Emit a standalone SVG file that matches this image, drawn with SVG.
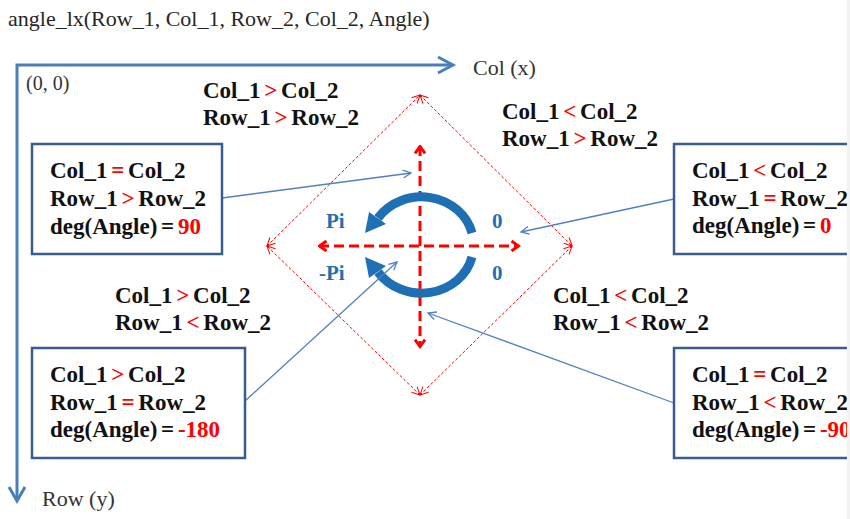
<svg xmlns="http://www.w3.org/2000/svg" width="850" height="519" viewBox="0 0 850 519">
<defs>
<style>
.t{font-family:"Liberation Serif","Times New Roman",serif;}
.b{font-family:"Liberation Serif","Times New Roman",serif;font-weight:bold;font-size:23px;word-spacing:-2px;fill:#111;}
.r{fill:#FF0000;}
.box{fill:#fff;stroke:#385D8A;stroke-width:2.5;}
.conn{fill:none;stroke:#4F81BD;stroke-width:1.3;}
.dia{fill:none;stroke:#FF0000;stroke-width:1;stroke-dasharray:3 2;}
.cross{fill:none;stroke:#FF0000;stroke-width:3;stroke-dasharray:10 5;}
.pi{font-family:"Liberation Serif","Times New Roman",serif;font-weight:bold;font-size:21px;fill:#1F6FB5;}
</style>
<marker id="mb" viewBox="0 0 10 10" refX="9" refY="5" markerWidth="10" markerHeight="10" markerUnits="userSpaceOnUse" orient="auto-start-reverse">
<path d="M1,1 L9,5 L1,9" fill="none" stroke="#4F81BD" stroke-width="1.3" stroke-dasharray="none"/>
</marker>
<marker id="mr" viewBox="0 0 10 10" refX="9" refY="5" markerWidth="10" markerHeight="10" markerUnits="userSpaceOnUse" orient="auto-start-reverse">
<path d="M1,1 L9,5 L1,9" fill="none" stroke="#FF0000" stroke-width="1" stroke-dasharray="none"/>
</marker>
<marker id="mx" viewBox="0 0 12 12" refX="10.5" refY="6" markerWidth="12" markerHeight="12" markerUnits="userSpaceOnUse" orient="auto-start-reverse">
<path d="M3,1 L10,6 L3,11" fill="none" stroke="#FF0000" stroke-width="3" stroke-dasharray="none"/>
</marker>
<clipPath id="clip"><rect x="0" y="0" width="847" height="519"/></clipPath>
</defs>
<rect x="0" y="0" width="850" height="519" fill="#fff"/>
<g clip-path="url(#clip)">
<text class="t" x="8" y="26" font-size="22" fill="#262626">angle_lx(Row_1, Col_1, Row_2, Col_2, Angle)</text>

<g id="axes">
<polyline points="17,500 17,65 452,65" fill="none" stroke="#4A7EBB" stroke-width="3"/>
<polyline points="438,57 453,65 438,73" fill="none" stroke="#4A7EBB" stroke-width="3"/>
<polyline points="9,487 17,501 25,487" fill="none" stroke="#4A7EBB" stroke-width="3"/>
<text class="t" x="473" y="75" font-size="22" fill="#333">Col (x)</text>
<text class="t" x="26" y="90" font-size="20" fill="#333">(0, 0)</text>
<text class="t" x="42" y="506" font-size="22" fill="#333">Row (y)</text>
</g>

<g id="diamond">
<line class="dia" x1="420" y1="95" x2="572" y2="246" marker-start="url(#mr)" marker-end="url(#mr)"/>
<line class="dia" x1="572" y1="246" x2="420" y2="395" marker-start="url(#mr)" marker-end="url(#mr)"/>
<line class="dia" x1="420" y1="395" x2="267" y2="246" marker-start="url(#mr)" marker-end="url(#mr)"/>
<line class="dia" x1="267" y1="246" x2="420" y2="95" marker-start="url(#mr)" marker-end="url(#mr)"/>
</g>

<g id="cross">
<line class="cross" x1="420" y1="146" x2="420" y2="347" marker-start="url(#mx)" marker-end="url(#mx)"/>
<line class="cross" x1="319" y1="246" x2="519" y2="246" marker-start="url(#mx)" marker-end="url(#mx)"/>
</g>

<g id="rotation">
<path d="M472,233 A52,47 0 0 0 378,218" fill="none" stroke="#1F6FB5" stroke-width="9"/>
<polygon points="386,224 369,212 365,233" fill="#1F6FB5"/>
<path d="M472,257 A52,47 0 0 1 378,272" fill="none" stroke="#1F6FB5" stroke-width="9"/>
<polygon points="386,266 369,278 365,257" fill="#1F6FB5"/>
<text class="pi" x="326" y="228">Pi</text>
<text class="pi" x="492" y="228">0</text>
<text class="pi" x="319" y="280">-Pi</text>
<text class="pi" x="492" y="280">0</text>
</g>

<g id="quadrant-labels">
<text class="b" x="203" y="98">Col_1 <tspan class="r">&gt;</tspan> Col_2</text>
<text class="b" x="203" y="125">Row_1 <tspan class="r">&gt;</tspan> Row_2</text>
<text class="b" x="502" y="119">Col_1 <tspan class="r">&lt;</tspan> Col_2</text>
<text class="b" x="502" y="146">Row_1 <tspan class="r">&gt;</tspan> Row_2</text>
<text class="b" x="115" y="303">Col_1 <tspan class="r">&gt;</tspan> Col_2</text>
<text class="b" x="115" y="330">Row_1 <tspan class="r">&lt;</tspan> Row_2</text>
<text class="b" x="553" y="303">Col_1 <tspan class="r">&lt;</tspan> Col_2</text>
<text class="b" x="553" y="330">Row_1 <tspan class="r">&lt;</tspan> Row_2</text>
</g>

<g id="connectors">
<line class="conn" x1="222" y1="198" x2="411" y2="173" marker-end="url(#mb)"/>
<line class="conn" x1="674" y1="199" x2="521" y2="232" marker-end="url(#mb)"/>
<line class="conn" x1="245" y1="401" x2="397" y2="262" marker-end="url(#mb)"/>
<line class="conn" x1="674" y1="403" x2="428" y2="313" marker-end="url(#mb)"/>
</g>

<g id="box-90">
<rect class="box" x="32" y="144" width="190" height="110"/>
<text class="b" x="50" y="178">Col_1 <tspan class="r">=</tspan> Col_2</text>
<text class="b" x="50" y="206">Row_1 <tspan class="r">&gt;</tspan> Row_2</text>
<text class="b" x="50" y="234">deg(Angle) = <tspan class="r">90</tspan></text>
</g>

<g id="box-180">
<rect class="box" x="32" y="348" width="213" height="110"/>
<text class="b" x="50" y="382">Col_1 <tspan class="r">&gt;</tspan> Col_2</text>
<text class="b" x="50" y="410">Row_1 <tspan class="r">=</tspan> Row_2</text>
<text class="b" x="50" y="437">deg(Angle) = <tspan class="r">-180</tspan></text>
</g>

<g id="box-0">
<rect class="box" x="674" y="144" width="200" height="110"/>
<text class="b" x="692" y="178">Col_1 <tspan class="r">&lt;</tspan> Col_2</text>
<text class="b" x="692" y="206">Row_1 <tspan class="r">=</tspan> Row_2</text>
<text class="b" x="692" y="233">deg(Angle) = <tspan class="r">0</tspan></text>
</g>

<g id="box-neg90">
<rect class="box" x="674" y="348" width="200" height="110"/>
<text class="b" x="692" y="382">Col_1 <tspan class="r">=</tspan> Col_2</text>
<text class="b" x="692" y="410">Row_1 <tspan class="r">&lt;</tspan> Row_2</text>
<text class="b" x="692" y="437">deg(Angle) = <tspan class="r">-90</tspan></text>
</g>
</g>
<rect x="847" y="0" width="3" height="519" fill="#f2f2f2"/>
</svg>
